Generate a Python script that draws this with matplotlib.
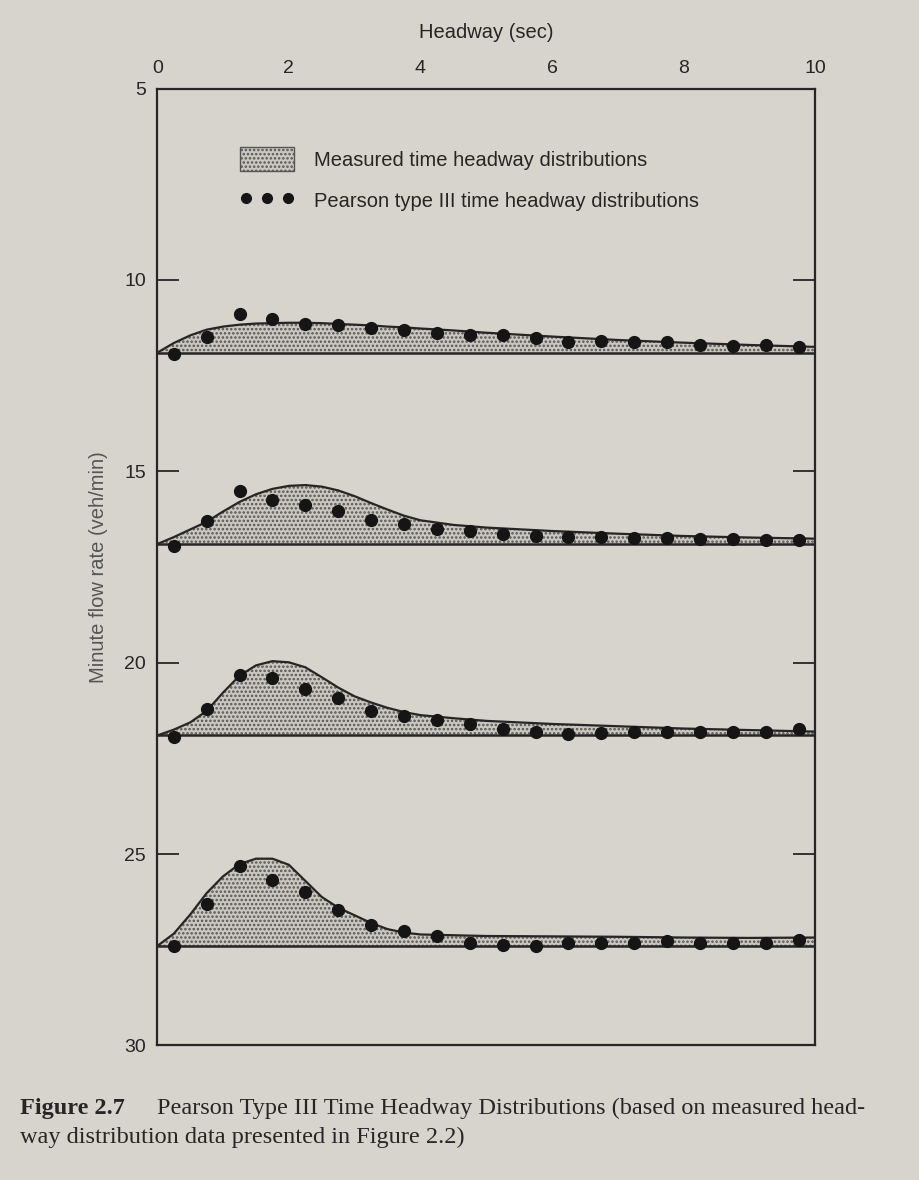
import matplotlib
matplotlib.use("Agg")
import matplotlib.pyplot as plt
from matplotlib.patches import Patch
from matplotlib.lines import Line2D

# headway (sec) where the measured curves were read
curve_x = [0, 0.25, 0.5, 0.75, 1.0, 1.25, 1.5, 1.75, 2.0, 2.25, 2.5, 2.75, 3.0,
           3.25, 3.5, 3.75, 4.0, 4.5, 5.0, 6.0, 7.0, 8.0, 9.0, 10.0]

# height of each measured distribution above its baseline (flow-rate units)
curve_12 = [0, 0.25, 0.45, 0.6, 0.68, 0.73, 0.76, 0.77, 0.78, 0.78, 0.77, 0.75, 0.73,
            0.71, 0.68, 0.66, 0.63, 0.58, 0.52, 0.42, 0.33, 0.26, 0.2, 0.15]
curve_17 = [0, 0.18, 0.38, 0.58, 0.85, 1.1, 1.3, 1.44, 1.52, 1.54, 1.5, 1.4, 1.25,
            1.07, 0.9, 0.74, 0.62, 0.5, 0.43, 0.34, 0.27, 0.21, 0.17, 0.14]
curve_22 = [0, 0.15, 0.34, 0.64, 1.12, 1.56, 1.83, 1.94, 1.91, 1.78, 1.52, 1.25, 1.02,
            0.86, 0.72, 0.61, 0.53, 0.45, 0.38, 0.3, 0.24, 0.18, 0.14, 0.1]
curve_27 = [0, 0.32, 0.82, 1.38, 1.82, 2.14, 2.28, 2.28, 2.12, 1.7, 1.28, 1.0, 0.8,
            0.6, 0.44, 0.35, 0.3, 0.28, 0.26, 0.25, 0.24, 0.22, 0.21, 0.22]

# Pearson type III points, one per 0.5 s bin
dot_x = [0.25, 0.75, 1.25, 1.75, 2.25, 2.75, 3.25, 3.75, 4.25, 4.75,
         5.25, 5.75, 6.25, 6.75, 7.25, 7.75, 8.25, 8.75, 9.25, 9.75]
dots_12 = [-0.03, 0.42, 1.0, 0.88, 0.76, 0.72, 0.65, 0.58, 0.5, 0.45,
           0.45, 0.39, 0.28, 0.3, 0.27, 0.28, 0.19, 0.18, 0.19, 0.15]
dots_17 = [-0.05, 0.59, 1.38, 1.14, 1.02, 0.85, 0.62, 0.53, 0.38, 0.35,
           0.25, 0.21, 0.18, 0.18, 0.15, 0.15, 0.13, 0.12, 0.11, 0.11]
dots_22 = [-0.03, 0.69, 1.58, 1.49, 1.22, 0.98, 0.64, 0.52, 0.4, 0.31,
           0.16, 0.1, 0.05, 0.07, 0.1, 0.1, 0.09, 0.09, 0.08, 0.17]
dots_27 = [0.0, 1.1, 2.08, 1.72, 1.4, 0.95, 0.55, 0.38, 0.25, 0.08,
           0.02, 0.0, 0.08, 0.08, 0.08, 0.12, 0.08, 0.08, 0.08, 0.16]

baselines = [11.9, 16.9, 21.9, 27.4]
curves = [curve_12, curve_17, curve_22, curve_27]
dots = [dots_12, dots_17, dots_22, dots_27]

paper = "#d7d4cd"
ink = "#262626"
stipple = "#cac7c0"

plt.rcParams["font.family"] = ["Liberation Sans", "DejaVu Sans"]
plt.rcParams["hatch.linewidth"] = 1.2

fig = plt.figure(figsize=(9.2, 11.8), dpi=100, facecolor=paper)
ax = fig.add_axes([0.171, 0.114, 0.715, 0.811], facecolor=paper)

for base, c, d in zip(baselines, curves, dots):
    top = [base - h for h in c]
    ax.fill_between(curve_x, base, top, facecolor=stipple, edgecolor="#555555",
                    hatch="....", linewidth=0, zorder=1)
    ax.plot(curve_x, top, color=ink, lw=1.6, zorder=2)
    ax.plot([0, 10], [base, base], color=ink, lw=1.8, zorder=2)
    ax.plot(dot_x, [base - h for h in d], "o", color="#151515", ms=8.5, zorder=3)

ax.set_xlim(0, 10)
ax.set_ylim(30, 5)

ax.xaxis.tick_top()
ax.xaxis.set_label_position("top")
ax.set_xticks([0, 2, 4, 6, 8, 10])
ax.set_xticks([2, 4, 6, 8], minor=True)
ax.tick_params(axis="x", which="major", length=0, pad=8, labelsize=14, colors=ink)
ax.tick_params(axis="x", which="minor", direction="in", length=11, width=1.3,
               top=True, bottom=True, color=ink)
ax.set_xlabel("Headway (sec)", fontsize=14.5, color=ink, labelpad=16)

ax.set_yticks([5, 10, 15, 20, 25, 30])
ax.tick_params(axis="y", direction="in", length=16, width=1.3, right=True,
               labelsize=14, colors=ink, pad=8)
ax.set_ylabel("Minute flow rate (veh/min)", fontsize=14.5, color="#555555", labelpad=12)

for s in ax.spines.values():
    s.set_color(ink)
    s.set_linewidth(1.6)

handles = [Patch(facecolor=stipple, edgecolor="#555555", hatch="....", linewidth=1.0),
           Line2D([], [], ls="none", marker="o", color="#151515", ms=7)]
ax.legend(handles, ["Measured time headway distributions",
                    "Pearson type III time headway distributions"],
          loc="upper left", bbox_to_anchor=(0.098, 0.958), frameon=False,
          fontsize=14.5, handlelength=2.7, handleheight=1.5, numpoints=3,
          labelspacing=0.85, handletextpad=1.0, labelcolor=ink)

cap_font = dict(family="Liberation Serif", fontsize=17.5, color=ink, va="center")
fig.text(0.022, 0.061, "Figure 2.7", weight="bold", **cap_font)
fig.text(0.171, 0.061, "Pearson Type III Time Headway Distributions (based on measured head-",
         **cap_font)
fig.text(0.022, 0.036, "way distribution data presented in Figure 2.2)", **cap_font)

fig.savefig("out.png", dpi=100, facecolor=paper)
